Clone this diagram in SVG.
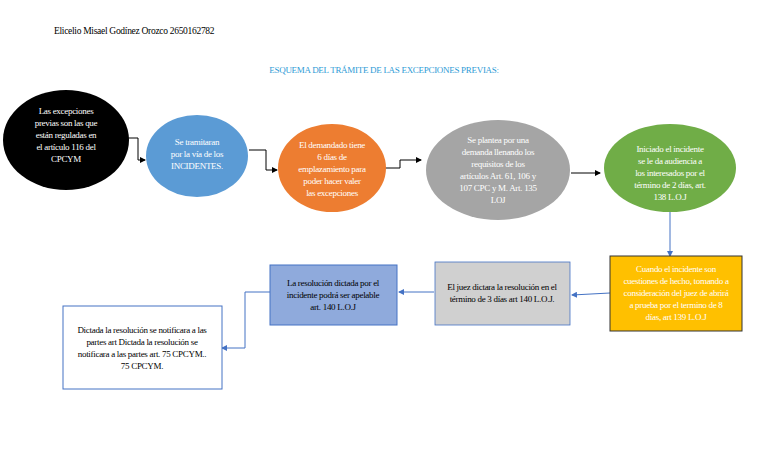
<svg xmlns="http://www.w3.org/2000/svg" width="768" height="466" viewBox="0 0 768 466">
<defs>
<style>
text{font-family:'Liberation Serif','DejaVu Serif',serif;font-size:9px;text-anchor:middle;letter-spacing:-0.3px}
.w{fill:#fff}.k{fill:#000}
.c{fill:none;stroke:#000;stroke-width:1}
.b{fill:none;stroke:#4472c4;stroke-width:1}
</style>
<marker id="ak" markerWidth="6" markerHeight="6" refX="5" refY="3" orient="auto"><path d="M0,0L6,3L0,6z" fill="#000"/></marker>
<marker id="ab" markerWidth="6" markerHeight="6" refX="5" refY="3" orient="auto"><path d="M0,0L6,3L0,6z" fill="#4472c4"/></marker>
</defs>
<rect width="768" height="466" fill="#fff"/>
<text x="54" y="34" style="text-anchor:start;font-size:9.5px">Elicelio Misael Godínez Orozco 2650162782</text>
<text x="384" y="73" style="fill:#2e9bd6;font-size:9px">ESQUEMA DEL TRÁMITE DE LAS EXCEPCIONES PREVIAS:</text>
<g id="connectors">
<path class="c" d="M127,138H138V160H145" marker-end="url(#ak)"/>
<path class="c" d="M249,150H266V170H277" marker-end="url(#ak)"/>
<path class="c" d="M384,168H400V160H421" marker-end="url(#ak)"/>
<path class="c" d="M571,173H600" marker-end="url(#ak)"/>
<path class="b" d="M670,201V256" marker-end="url(#ab)"/>
<path class="b" d="M610,293L572,295" marker-end="url(#ab)"/>
<path class="b" d="M434,292H399" marker-end="url(#ab)"/>
<path class="b" d="M270,292H245V348H222" marker-end="url(#ab)"/>
</g>
<g id="n1"><ellipse cx="66" cy="140" rx="63" ry="50" fill="#000"/>
<text class="w" x="66" y="114">Las excepciones</text><text class="w" x="66" y="126">previas son las que</text><text class="w" x="66" y="138">están reguladas en</text><text class="w" x="66" y="150">el artículo 116 del</text><text class="w" x="66" y="162">CPCYM</text></g>
<g id="n2"><ellipse cx="197" cy="156" rx="51" ry="41" fill="#5b9bd5"/>
<text class="w" x="197" y="145">Se tramitaran</text><text class="w" x="197" y="157">por la vía de los</text><text class="w" x="197" y="169">INCIDENTES.</text></g>
<g id="n3"><ellipse cx="332" cy="168" rx="54" ry="44" fill="#ed7d31"/>
<text class="w" x="332" y="148">El demandado tiene</text><text class="w" x="332" y="160">6 días de</text><text class="w" x="332" y="172">emplazamiento para</text><text class="w" x="332" y="184">poder hacer valer</text><text class="w" x="332" y="196">las excepciones</text></g>
<g id="n4"><ellipse cx="498" cy="170" rx="72" ry="50" fill="#a5a5a5"/>
<text class="w" x="498" y="143">Se plantea por una</text><text class="w" x="498" y="155">demanda llenando los</text><text class="w" x="498" y="167">requisitos de los</text><text class="w" x="498" y="179">artículos Art. 61, 106 y</text><text class="w" x="498" y="191">107 CPC y M. Art. 135</text><text class="w" x="498" y="203">LOJ</text></g>
<g id="n5"><ellipse cx="670" cy="168" rx="66" ry="44" fill="#70ad47"/>
<text class="w" x="670" y="152">Iniciado el incidente</text><text class="w" x="670" y="164">se le da audiencia a</text><text class="w" x="670" y="176">los interesados por el</text><text class="w" x="670" y="188">término de 2 días, art.</text><text class="w" x="670" y="200">138 L.O.J</text></g>
<g id="n6"><rect x="610" y="256" width="132" height="75" fill="#ffc000" stroke="#333"/>
<text class="w" x="676" y="272">Cuando el incidente son</text><text class="w" x="676" y="284">cuestiones de hecho, tomando a</text><text class="w" x="676" y="296">consideración del juez de abrirá</text><text class="w" x="676" y="308">a prueba por el termino de 8</text><text class="w" x="676" y="320">días, art 139 L.O.J</text></g>
<g id="n7"><rect x="435" y="262" width="135" height="63" fill="#d0d0d0" stroke="#4472c4" stroke-width="0.8"/>
<text x="502" y="290">El juez dictara la resolución en el</text><text x="502" y="302">término de  3 días art 140 L.O.J.</text></g>
<g id="n8"><rect x="270" y="265" width="127" height="60" fill="#8faadc" stroke="#4472c4"/>
<text x="333" y="286">La resolución dictada por el</text><text x="333" y="298">incidente podrá ser apelable</text><text x="333" y="310">art. 140 L.O.J</text></g>
<g id="n9"><rect x="63" y="306" width="159" height="83" fill="#fff" stroke="#4472c4"/>
<text x="142" y="333">Dictada la resolución se notificara a las</text><text x="142" y="345">partes art Dictada la resolución se</text><text x="142" y="357">notificara a las partes art. 75 CPCYM..</text><text x="142" y="369">75 CPCYM.</text></g>
</svg>
